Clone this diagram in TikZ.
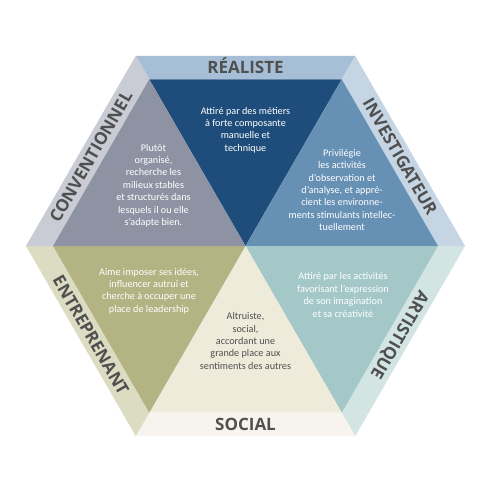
\documentclass[tikz,border=0pt]{standalone}
\usepackage{fontspec}
\setmainfont{Carlito}
\newfontfamily\headfont{Open Sans}
\usepackage{tikz}

\definecolor{headgray}{HTML}{505050}
\definecolor{realT}{HTML}{1E4D7B}
\definecolor{realB}{HTML}{A7BFD6}
\definecolor{inveT}{HTML}{6790B5}
\definecolor{inveB}{HTML}{C5D5E3}
\definecolor{artiT}{HTML}{A4C8C8}
\definecolor{artiB}{HTML}{D3E5E3}
\definecolor{sociT}{HTML}{EFEBDB}
\definecolor{sociB}{HTML}{F6F4EC}
\definecolor{entrT}{HTML}{B4B383}
\definecolor{entrB}{HTML}{DCDCC3}
\definecolor{convT}{HTML}{8E93A3}
\definecolor{convB}{HTML}{C9CBD5}

\begin{document}
\begin{tikzpicture}[
  x=1pt,y=1pt,
  typename/.style={font=\headfont\bfseries\fontsize{17}{17}\selectfont,text=headgray,inner sep=0pt,text height=12pt,text depth=0pt},
  blurb/.style={font=\fontsize{10.2}{12.4}\selectfont,text=white,align=center,inner sep=0pt}
]

\useasboundingbox[fill=white] (-245.5,-234) rectangle (234.5,246);

\fill[realB] (60:219.5) -- (120:219.5) -- (120:192.5) -- (60:192.5) -- cycle;
\fill[inveB] (0:219.5) -- (60:219.5) -- (60:192.5) -- (0:192.5) -- cycle;
\fill[artiB] (-60:219.5) -- (0:219.5) -- (0:192.5) -- (-60:192.5) -- cycle;
\fill[sociB] (-120:219.5) -- (-60:219.5) -- (-60:192.5) -- (-120:192.5) -- cycle;
\fill[entrB] (180:219.5) -- (240:219.5) -- (240:192.5) -- (180:192.5) -- cycle;
\fill[convB] (120:219.5) -- (180:219.5) -- (180:192.5) -- (120:192.5) -- cycle;

\fill[realT] (0,0) -- (60:192.5) -- (120:192.5) -- cycle;
\fill[inveT] (0,0) -- (0:192.5) -- (60:192.5) -- cycle;
\fill[artiT] (0,0) -- (-60:192.5) -- (0:192.5) -- cycle;
\fill[sociT] (0,0) -- (-120:192.5) -- (-60:192.5) -- cycle;
\fill[entrT] (0,0) -- (180:192.5) -- (240:192.5) -- cycle;
\fill[convT] (0,0) -- (120:192.5) -- (180:192.5) -- cycle;

\node[typename] (realiste) at (90:178.5) {RÉALISTE};
\node[typename,rotate=-60] (investigateur) at (30:178.5) {INVESTIGATEUR};
\node[typename,rotate=-120] (artistique) at (-30:178.5) {ARTISTIQUE};
\node[typename] (social) at (-90:178.5) {SOCIAL};
\node[typename,rotate=-60] (entreprenant) at (210:178.5) {ENTREPRENANT};
\node[typename,rotate=60] (conventionnel) at (150:178.5) {CONVENTIONNEL};

\node[blurb] (realisteTxt) at (0,116) {Attiré par des métiers\\à forte composante\\manuelle et\\technique};
\node[blurb] (investigateurTxt) at (96.5,56) {Privilégie\\les activités\\d’observation et\\d’analyse, et appré-\\cient les environne-\\ments stimulants intellec-\\tuellement};
\node[blurb] (artistiqueTxt) at (97.5,-49) {Attiré par les activités\\favorisant l’expression\\de son imagination\\et sa créativité};
\node[blurb,text=headgray] (socialTxt) at (0,-95) {Altruiste,\\social,\\accordant une\\grande place aux\\sentiments des autres};
\node[blurb] (entreprenantTxt) at (-96.5,-45) {Aime imposer ses idées,\\influencer autrui et\\cherche à occuper une\\place de leadership};
\node[blurb] (conventionnelTxt) at (-92,60.5) {Plutôt\\organisé,\\recherche les\\milieux stables\\et structurés dans\\lesquels il ou elle\\s’adapte bien.};

\end{tikzpicture}
\end{document}
